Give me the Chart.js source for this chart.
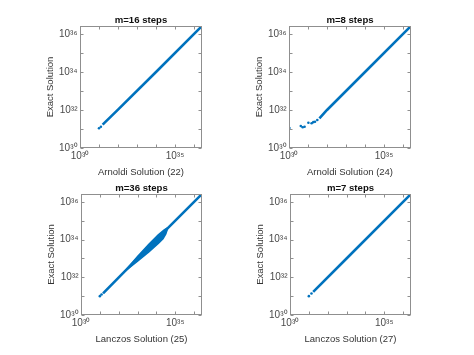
<!DOCTYPE html>
<html>
<head>
<meta charset="utf-8">
<script src="https://cdn.jsdelivr.net/npm/chart.js@4/dist/chart.umd.min.js"></script>
<style>
  html, body { margin: 0; padding: 0; background: #ffffff; }
  #wrap { position: relative; width: 474px; height: 355px; overflow: hidden; }
  canvas { position: absolute; }
</style>
</head>
<body>
<div id="wrap">
  <canvas id="c1" width="237" height="178" style="left:0px;top:0px;width:237px;height:178px"></canvas>
  <canvas id="c2" width="237" height="178" style="left:237px;top:0px;width:237px;height:178px"></canvas>
  <canvas id="c3" width="237" height="177" style="left:0px;top:178px;width:237px;height:177px"></canvas>
  <canvas id="c4" width="237" height="177" style="left:237px;top:178px;width:237px;height:177px"></canvas>
</div>
<script>
// ---------- axis data ----------
const axisMin = 1e30;
const axisMax = 2.63e36;
const decadeTicks = [1e30, 1e31, 1e32, 1e33, 1e34, 1e35, 1e36];
const xLabelExps = [30, 35];
const yLabelExps = [30, 32, 34, 36];

const panelTitles = ['m=16 steps', 'm=8 steps', 'm=36 steps', 'm=7 steps'];
const xTitles = ['Arnoldi Solution (22)', 'Arnoldi Solution (24)', 'Lanczos Solution (25)', 'Lanczos Solution (27)'];
const yTitle = 'Exact Solution';

// ---------- m=16 (Arnoldi (22)) ----------
const m16DotX = [1.00e31, 1.26e31];
const m16DotY = [1.10e31, 1.32e31];
const m16LineX = [1.55e31, 1.0e32, 1.0e34, 2.63e36];
const m16LineY = [1.70e31, 1.05e32, 1.0e34, 2.63e36];

// ---------- m=8 (Arnoldi (24)) ----------
const m8DotX = [1.05e30, 4.17e30, 5.25e30, 6.6e30, 1.05e31, 1.55e31, 1.9e31, 2.34e31, 3.09e31];
const m8DotY = [1.12e31, 1.45e31, 1.23e31, 1.32e31, 2.14e31, 2.0e31, 2.29e31, 2.4e31, 2.95e31];
const m8LineX = [3.98e31, 1.0e32, 1.0e34, 2.63e36];
const m8LineY = [3.63e31, 1.0e32, 1.0e34, 2.63e36];

// ---------- m=36 (Lanczos (25)) ----------
const m36DotX = [1.00e31, 1.23e31];
const m36DotY = [1.00e31, 1.23e31];
const m36LineX = [1.48e31, 1.0e33, 2.63e36];
const m36LineY = [1.40e31, 1.0e33, 2.63e36];
const m36UpperX = [2.0e32, 1.0e33, 3.98e33, 1.26e34, 2.51e34, 3.55e34, 3.98e34];
const m36UpperY = [2.0e32, 1.26e33, 5.62e33, 1.78e34, 3.16e34, 3.98e34, 3.98e34];
const m36LowerX = [2.0e32, 1.0e33, 3.98e33, 1.26e34, 2.24e34, 3.16e34, 3.98e34];
const m36LowerY = [2.0e32, 7.08e32, 2.24e33, 6.31e33, 1.12e34, 2.0e34, 3.98e34];

// ---------- m=7 (Lanczos (27)) ----------
const m7DotX = [1.00e31, 1.38e31];
const m7DotY = [1.00e31, 1.38e31];
const m7LineX = [1.70e31, 1.0e33, 2.63e36];
const m7LineY = [1.70e31, 1.0e33, 2.63e36];

// ---------- styling ----------
const BLUE = '#0072BD';
const FONT = '"Liberation Sans", Arial, Helvetica, sans-serif';
const SUP = {'0':'\u2070','1':'\u00B9','2':'\u00B2','3':'\u00B3','4':'\u2074','5':'\u2075','6':'\u2076','7':'\u2077','8':'\u2078','9':'\u2079'};
function supLabel(e) { return '10' + String(e).split('').map(d => SUP[d]).join(''); }
function pts(xs, ys) { return xs.map((x, i) => ({x: x, y: ys[i]})); }

const framePlugin = {
  id: 'frame',
  afterDatasetsDraw(chart) {
    const {ctx, chartArea: a, scales} = chart;
    const x = scales.x, y = scales.y;
    ctx.save();
    ctx.strokeStyle = '#8f8f8f';
    ctx.lineWidth = 1;
    const l = Math.round(a.left) + 0.5, t = Math.round(a.top) + 0.5;
    const r = Math.round(a.right) - 0.5, b = Math.round(a.bottom) - 0.5;
    ctx.strokeRect(l, t, r - l, b - t);
    ctx.beginPath();
    x.ticks.forEach(tk => {
      const px = Math.round(x.getPixelForValue(tk.value)) + 0.5;
      ctx.moveTo(px, b); ctx.lineTo(px, b - 3);
      ctx.moveTo(px, t); ctx.lineTo(px, t + 3);
    });
    y.ticks.forEach(tk => {
      const py = Math.round(y.getPixelForValue(tk.value)) + 0.5;
      ctx.moveTo(l, py); ctx.lineTo(l + 3, py);
      ctx.moveTo(r, py); ctx.lineTo(r - 3, py);
    });
    ctx.stroke();
    ctx.restore();
  }
};

function makePanel(id, box, title, xTitle, datasets) {
  const canvas = document.getElementById(id);
  const cw = canvas.width, ch = canvas.height;
  const labelSize = 9.5, labelLH = 1.2, lh = labelSize * labelLH;
  const titleSize = 9.6, titleLH = 1.0, tlh = titleSize * titleLH;
  const padL = box.L - 30 - lh / 2;
  const W = box.L - padL;
  const H = 24 + lh / 2;
  const padB = ch - box.B - H;
  const padR = cw - box.R;
  const titleCenter = box.T - 5.6;
  const tPadTop = titleCenter - tlh / 2;
  const tPadBottom = box.T - tPadTop - tlh;

  const tickCb = (exps) => (v) => {
    const e = Math.round(Math.log10(v));
    return exps.includes(e) ? supLabel(e) : '';
  };

  new Chart(canvas, {
    type: 'scatter',
    data: { datasets: datasets },
    options: {
      responsive: false,
      animation: false,
      devicePixelRatio: 1,
      layout: { padding: { left: padL, right: padR, top: 0, bottom: padB } },
      plugins: {
        legend: { display: false },
        tooltip: { enabled: false },
        title: {
          display: true, text: title, fullSize: false, color: '#111111',
          font: { family: FONT, size: titleSize, weight: 'bold', lineHeight: titleLH },
          padding: { top: tPadTop, bottom: tPadBottom }
        }
      },
      scales: {
        x: {
          type: 'logarithmic', min: axisMin, max: axisMax,
          grid: { display: false, drawTicks: false },
          border: { display: false },
          afterBuildTicks: (s) => { s.ticks = decadeTicks.map(v => ({value: v})); },
          afterFit: (s) => { s.height = H; },
          ticks: { autoSkip: false, maxRotation: 0, padding: 2.6, color: '#4a4a4a',
                   font: { family: FONT, size: 10, lineHeight: 1.2 }, callback: tickCb(xLabelExps) },
          title: { display: true, text: xTitle, color: '#333333', padding: 0,
                   font: { family: FONT, size: labelSize, lineHeight: labelLH } }
        },
        y: {
          type: 'logarithmic', min: axisMin, max: axisMax,
          grid: { display: false, drawTicks: false },
          border: { display: false },
          afterBuildTicks: (s) => { s.ticks = decadeTicks.map(v => ({value: v})); },
          afterFit: (s) => { s.width = W; },
          ticks: { autoSkip: false, padding: 2.5, color: '#4a4a4a',
                   font: { family: FONT, size: 10, lineHeight: 1.2 }, callback: tickCb(yLabelExps) },
          title: { display: true, text: yTitle, color: '#333333', padding: 0,
                   font: { family: FONT, size: labelSize, lineHeight: labelLH } }
        }
      }
    },
    plugins: [framePlugin]
  });
}

function lineSet(xs, ys) {
  return { data: pts(xs, ys), showLine: true, borderColor: BLUE, borderWidth: 2.6,
           pointRadius: 0, fill: false, borderCapStyle: 'butt' };
}
function dotSet(xs, ys) {
  return { data: pts(xs, ys), showLine: false, pointRadius: 1.3, pointBorderWidth: 0,
           pointBackgroundColor: BLUE, backgroundColor: BLUE, borderColor: BLUE };
}

makePanel('c1', {L: 80, R: 202, T: 26, B: 148}, panelTitles[0], xTitles[0],
  [dotSet(m16DotX, m16DotY), lineSet(m16LineX, m16LineY)]);

makePanel('c2', {L: 52, R: 174, T: 26, B: 148}, panelTitles[1], xTitles[1],
  [dotSet(m8DotX, m8DotY), lineSet(m8LineX, m8LineY)]);

makePanel('c3', {L: 81, R: 202, T: 16, B: 137}, panelTitles[2], xTitles[2],
  [
    { data: pts(m36UpperX, m36UpperY), showLine: true, borderColor: BLUE, borderWidth: 1.5,
      pointRadius: 0, fill: false },
    { data: pts(m36LowerX, m36LowerY), showLine: true, borderColor: BLUE, borderWidth: 1.5,
      pointRadius: 0, fill: '-1', backgroundColor: BLUE },
    dotSet(m36DotX, m36DotY),
    lineSet(m36LineX, m36LineY)
  ]);

makePanel('c4', {L: 53, R: 174, T: 16, B: 137}, panelTitles[3], xTitles[3],
  [dotSet(m7DotX, m7DotY), lineSet(m7LineX, m7LineY)]);
</script>
</body>
</html>
